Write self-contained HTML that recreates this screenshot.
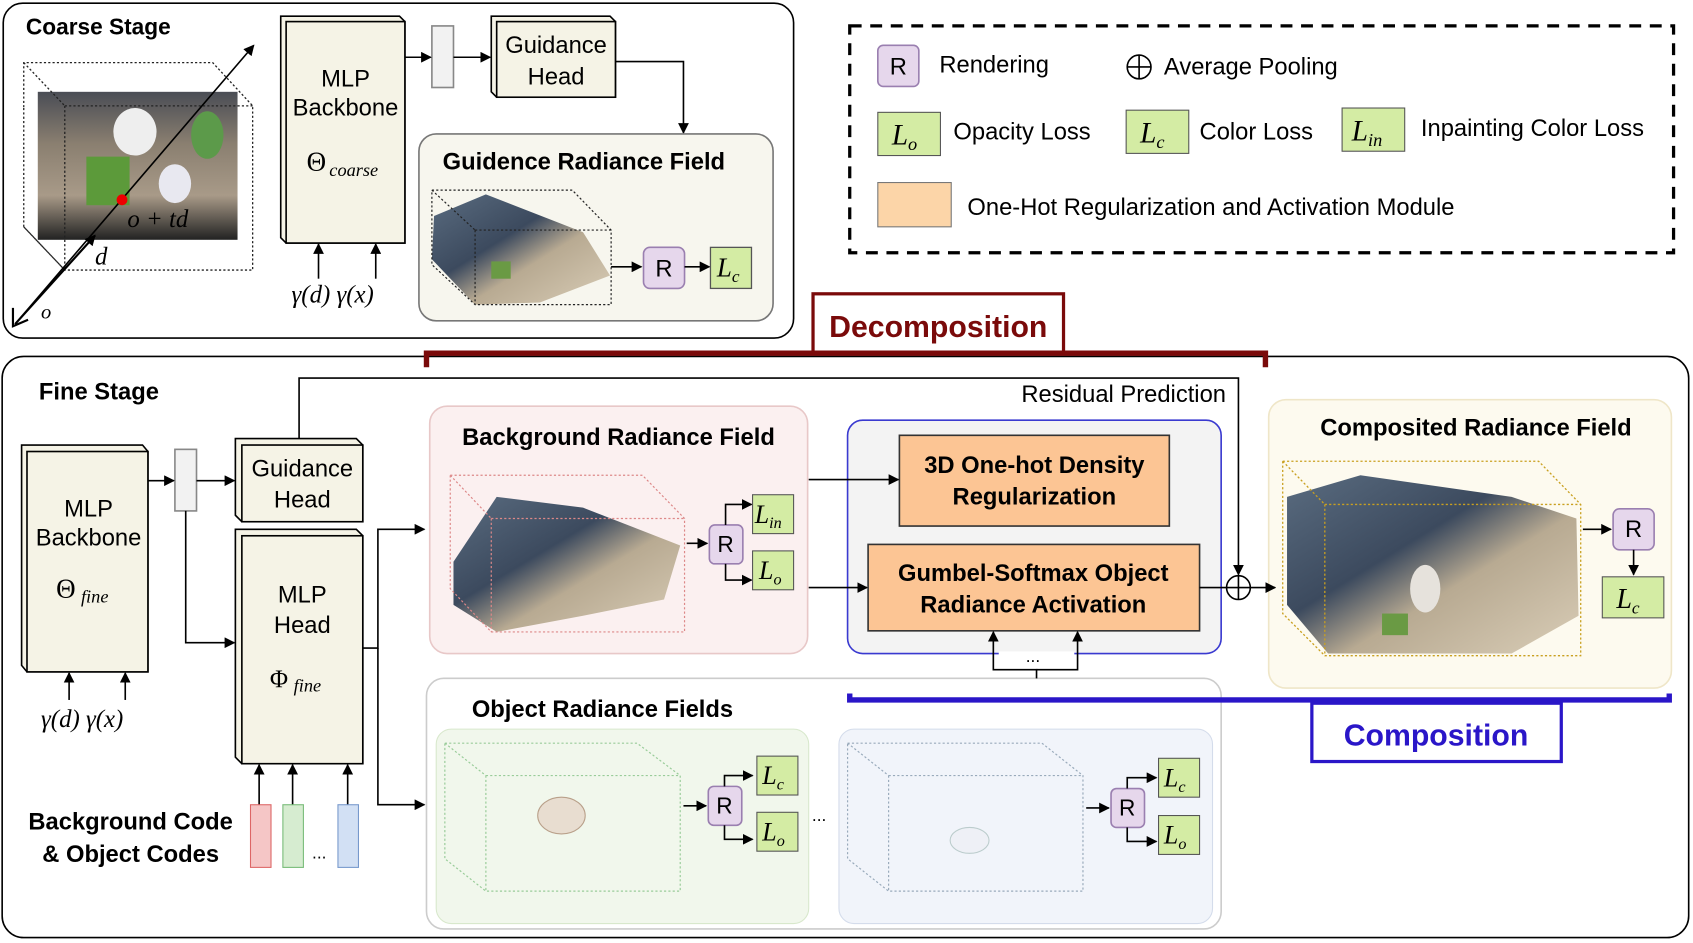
<!DOCTYPE html>
<html><head><meta charset="utf-8"><style>
html,body{margin:0;padding:0;background:#fff}
svg{display:block}
text{font-family:"Liberation Sans",sans-serif}
.m{font-family:"Liberation Serif",serif;font-style:italic}
</style></head><body>
<svg width="1693" height="943" viewBox="0 0 1568 873" preserveAspectRatio="none" xmlns="http://www.w3.org/2000/svg">
<defs>
<marker id="a" markerWidth="10" markerHeight="10" refX="9" refY="5" orient="auto" markerUnits="userSpaceOnUse"><path d="M0,0 L10,5 L0,10 z" fill="#000"/></marker>
<linearGradient id="sc" x1="0" y1="0" x2="1" y2="1"><stop offset="0" stop-color="#5a6c80"/><stop offset="0.4" stop-color="#3c4a5e"/><stop offset="0.6" stop-color="#b8aa92"/><stop offset="1" stop-color="#d9cdb7"/></linearGradient>
<linearGradient id="ph" x1="0" y1="0" x2="0" y2="1"><stop offset="0" stop-color="#4a4d55"/><stop offset="0.35" stop-color="#8a7f70"/><stop offset="0.7" stop-color="#a89a88"/><stop offset="1" stop-color="#222"/></linearGradient>
</defs>
<g fill="none" stroke="#000" stroke-width="1.5">
<rect x="3" y="3" width="732" height="310" rx="18"/>
<rect x="2" y="330" width="1562" height="538" rx="20"/>
</g>
<text x="24" y="32" font-size="21" font-weight="bold">Coarse Stage</text>
<rect x="35" y="85" width="185" height="137" fill="url(#ph)"/>
<rect x="80" y="145" width="40" height="45" fill="#5c9a3a"/>
<ellipse cx="125" cy="122" rx="20" ry="22" fill="#eee"/>
<ellipse cx="162" cy="170" rx="15" ry="18" fill="#e8e8f0"/>
<ellipse cx="192" cy="125" rx="15" ry="22" fill="#5c9a4a"/>
<g fill="none" stroke="#222" stroke-dasharray="2,2" stroke-width="1.2">
<polyline points="22,100 22,210 60,250 234,250 234,98 197,58 22,58 22,100"/>
<line x1="22" y1="58" x2="60" y2="98"/><line x1="60" y1="98" x2="234" y2="98"/><line x1="60" y1="98" x2="60" y2="250"/><line x1="22" y1="210" x2="60" y2="250"/>
</g>
<line x1="14" y1="300" x2="235" y2="42" stroke="#000" stroke-width="1.5" marker-end="url(#a)"/>
<line x1="14" y1="300" x2="88" y2="218" stroke="#000" stroke-width="2" marker-end="url(#a)"/>
<circle cx="113" cy="185" r="5" fill="#e00"/>
<text x="118" y="210" font-size="23" class="m" fill="#000">o + td</text>
<text x="88" y="245" font-size="23" class="m">d</text>
<text x="38" y="295" font-size="19" class="m">o</text>
<path d="M12,285 L12,302 L26,296" fill="none" stroke="#000" stroke-width="2"/>
<g stroke="#000" stroke-width="1.5" fill="#f5f3e6">
<path d="M260,15 L370,15 L375,20 L375,225 L265,225 L260,220 Z"/>
<rect x="265" y="20" width="110" height="205"/>
<rect x="400" y="24" width="20" height="57" fill="#f2f2f2" stroke="#888"/>
<path d="M455,15 L565,15 L570,20 L570,90 L460,90 L455,85 Z"/>
<rect x="460" y="20" width="110" height="70"/>
</g>
<text x="320" y="80" font-size="22" text-anchor="middle">MLP</text>
<text x="320" y="107" font-size="22" text-anchor="middle">Backbone</text>
<text x="284" y="158" font-size="25" class="m" style="font-style:normal">Θ</text><text x="305" y="163" font-size="17" class="m">coarse</text>
<text x="515" y="49" font-size="22" text-anchor="middle">Guidance</text>
<text x="515" y="78" font-size="22" text-anchor="middle">Head</text>
<g stroke="#000" stroke-width="1.5" fill="none" marker-end="url(#a)">
<line x1="375" y1="53" x2="399" y2="53"/><line x1="420" y1="53" x2="454" y2="53"/>
<polyline points="570,57 633,57 633,123"/>
<line x1="295" y1="258" x2="295" y2="226"/><line x1="348" y1="258" x2="348" y2="226"/>
</g>
<text x="270" y="280" font-size="23" class="m">γ(d) γ(x)</text>
<rect x="388" y="124" width="328" height="173" rx="16" fill="#f7f6ee" stroke="#777" stroke-width="1.5"/>
<text x="410" y="157" font-size="22" font-weight="bold">Guidence Radiance Field</text>
<polygon points="402,200 450,180 540,215 565,255 500,280 440,282 400,240" fill="url(#sc)"/>
<rect x="455" y="242" width="18" height="16" fill="#6a9a44"/>
<g fill="none" stroke="#222" stroke-dasharray="2,2" stroke-width="1.1">
<polyline points="400,176 530,176 566,213 566,282 440,282 400,245 400,176"/><line x1="400" y1="176" x2="440" y2="213"/><line x1="440" y1="213" x2="566" y2="213"/><line x1="440" y1="213" x2="440" y2="282"/>
</g>
<line x1="566" y1="247" x2="594" y2="247" stroke="#000" stroke-width="1.5" marker-end="url(#a)"/>
<rect x="596" y="229" width="38" height="38" rx="6" fill="#e6d7ec" stroke="#9a7fb0" stroke-width="1.5"/>
<text x="615" y="256" font-size="22" text-anchor="middle">R</text>
<line x1="634" y1="247" x2="657" y2="247" stroke="#000" stroke-width="1.5" marker-end="url(#a)"/>
<rect x="658" y="229" width="38" height="38" fill="#d4eca4" stroke="#555" stroke-width="1.2"/>
<text x="664" y="256" font-size="25" class="m">L<tspan font-size="16" dy="5">c</tspan></text>
<rect x="787" y="24" width="763" height="210" fill="none" stroke="#000" stroke-width="3" stroke-dasharray="11,8"/>
<rect x="813" y="42" width="38" height="38" rx="5" fill="#e6d7ec" stroke="#9a7fb0" stroke-width="1.5"/>
<text x="832" y="69" font-size="22" text-anchor="middle">R</text>
<text x="870" y="67" font-size="22">Rendering</text>
<circle cx="1055" cy="62" r="11" fill="none" stroke="#000" stroke-width="1.5"/><line x1="1044" y1="62" x2="1066" y2="62" stroke="#000" stroke-width="1.5"/><line x1="1055" y1="51" x2="1055" y2="73" stroke="#000" stroke-width="1.5"/>
<text x="1078" y="69" font-size="22">Average Pooling</text>
<rect x="813" y="104" width="58" height="40" fill="#d4eca4" stroke="#555"/>
<text x="826" y="134" font-size="27" class="m">L<tspan font-size="17" dy="5">o</tspan></text>
<text x="883" y="129" font-size="22">Opacity Loss</text>
<rect x="1043" y="102" width="58" height="40" fill="#d4eca4" stroke="#555"/>
<text x="1056" y="132" font-size="27" class="m">L<tspan font-size="17" dy="5">c</tspan></text>
<text x="1111" y="129" font-size="22">Color Loss</text>
<rect x="1243" y="100" width="58" height="40" fill="#d4eca4" stroke="#555"/>
<text x="1252" y="130" font-size="27" class="m">L<tspan font-size="17" dy="5">in</tspan></text>
<text x="1316" y="126" font-size="22">Inpainting Color Loss</text>
<rect x="813" y="169" width="68" height="41" fill="#fcd5a8" stroke="#777"/>
<text x="896" y="199" font-size="22">One-Hot Regularization and Activation Module</text>
<rect x="753" y="272" width="232" height="54" fill="#fff" stroke="#7a0a0a" stroke-width="3"/>
<text x="869" y="312" font-size="28" font-weight="bold" fill="#7a0a0a" text-anchor="middle">Decomposition</text>
<polyline points="395,340 395,327 1172,327 1172,340" fill="none" stroke="#7a0a0a" stroke-width="5"/>
<text x="36" y="370" font-size="22" font-weight="bold">Fine Stage</text>
<g stroke="#000" stroke-width="1.5" fill="#f5f3e6">
<path d="M20,412 L132,412 L137,418 L137,622 L25,622 L20,616 Z"/><rect x="25" y="418" width="112" height="204"/>
<rect x="162" y="416" width="20" height="57" fill="#f2f2f2" stroke="#888"/>
<path d="M218,406 L330,406 L336,412 L336,483 L224,483 L218,477 Z"/><rect x="224" y="412" width="112" height="71"/>
<path d="M218,490 L330,490 L336,496 L336,707 L224,707 L218,701 Z"/><rect x="224" y="496" width="112" height="211"/>
</g>
<text x="82" y="478" font-size="22" text-anchor="middle">MLP</text>
<text x="82" y="505" font-size="22" text-anchor="middle">Backbone</text>
<text x="52" y="553" font-size="25" class="m" style="font-style:normal">Θ</text><text x="75" y="558" font-size="17" class="m">fine</text>
<text x="280" y="441" font-size="22" text-anchor="middle">Guidance</text>
<text x="280" y="470" font-size="22" text-anchor="middle">Head</text>
<text x="280" y="558" font-size="22" text-anchor="middle">MLP</text>
<text x="280" y="586" font-size="22" text-anchor="middle">Head</text>
<text x="250" y="636" font-size="23" class="m" style="font-style:normal">Φ</text><text x="272" y="640" font-size="17" class="m">fine</text>
<text x="38" y="673" font-size="23" class="m">γ(d) γ(x)</text>
<g stroke="#000" stroke-width="1.5" fill="none" marker-end="url(#a)">
<line x1="137" y1="445" x2="161" y2="445"/><line x1="182" y1="445" x2="217" y2="445"/>
<polyline points="172,473 172,595 217,595"/>
<line x1="64" y1="648" x2="64" y2="623"/><line x1="116" y1="648" x2="116" y2="623"/>
<line x1="240" y1="745" x2="240" y2="708"/><line x1="271" y1="745" x2="271" y2="708"/><line x1="322" y1="745" x2="322" y2="708"/>
<polyline points="336,600 350,600 350,490 393,490"/><polyline points="350,600 350,745 393,745"/>
</g>
<rect x="232" y="745" width="19" height="58" fill="#f5c6c6" stroke="#d66"/>
<rect x="262" y="745" width="19" height="58" fill="#d6ecd0" stroke="#7b7"/>
<rect x="313" y="745" width="19" height="58" fill="#d2e0f4" stroke="#79c"/>
<text x="289" y="795" font-size="16">...</text>
<text x="121" y="768" font-size="22" font-weight="bold" text-anchor="middle">Background Code</text>
<text x="121" y="798" font-size="22" font-weight="bold" text-anchor="middle">&amp; Object Codes</text>
<text x="946" y="372" font-size="22">Residual Prediction</text>
<rect x="398" y="376" width="350" height="229" rx="16" fill="#fbf0f0" stroke="#e8c8c8" stroke-width="1.5"/>
<text x="428" y="412" font-size="22" font-weight="bold">Background Radiance Field</text>
<polygon points="420,520 460,460 540,470 630,505 615,555 540,570 460,585 420,560" fill="url(#sc)"/>
<g fill="none" stroke="#d88" stroke-dasharray="2,2" stroke-width="1.1">
<polyline points="417,440 595,440 634,480 634,585 455,585 417,545 417,440"/><line x1="417" y1="440" x2="455" y2="480"/><line x1="455" y1="480" x2="634" y2="480"/><line x1="455" y1="480" x2="455" y2="585"/>
</g>
<line x1="636" y1="503" x2="655" y2="503" stroke="#000" stroke-width="1.5" marker-end="url(#a)"/>
<rect x="657" y="486" width="31" height="36" rx="5" fill="#e6d7ec" stroke="#9a7fb0" stroke-width="1.5"/>
<text x="672" y="511" font-size="21" text-anchor="middle">R</text>
<polyline points="672,486 672,467 696,467" fill="none" stroke="#000" stroke-width="1.5" marker-end="url(#a)"/>
<polyline points="672,522 672,537 696,537" fill="none" stroke="#000" stroke-width="1.5" marker-end="url(#a)"/>
<rect x="697" y="458" width="38" height="36" fill="#d4eca4" stroke="#555"/>
<text x="699" y="484" font-size="24" class="m">L<tspan font-size="15" dy="5">in</tspan></text>
<rect x="697" y="510" width="38" height="36" fill="#d4eca4" stroke="#555"/>
<text x="703" y="536" font-size="24" class="m">L<tspan font-size="15" dy="5">o</tspan></text>
<rect x="785" y="389" width="346" height="216" rx="14" fill="#f3f3f3" stroke="#3a3ad0" stroke-width="1.5"/>
<rect x="833" y="403" width="250" height="84" fill="#fcc594" stroke="#333" stroke-width="1.5"/>
<text x="958" y="438" font-size="22" font-weight="bold" text-anchor="middle">3D One-hot Density</text>
<text x="958" y="467" font-size="22" font-weight="bold" text-anchor="middle">Regularization</text>
<rect x="804" y="504" width="307" height="80" fill="#fcc594" stroke="#333" stroke-width="1.5"/>
<text x="957" y="538" font-size="22" font-weight="bold" text-anchor="middle">Gumbel-Softmax Object</text>
<text x="957" y="567" font-size="22" font-weight="bold" text-anchor="middle">Radiance Activation</text>
<rect x="1175" y="370" width="373" height="267" rx="16" fill="#fdfaef" stroke="#efe6c8" stroke-width="1.5"/>
<text x="1367" y="403" font-size="22" font-weight="bold" text-anchor="middle">Composited Radiance Field</text>
<polygon points="1192,460 1260,440 1400,460 1460,480 1462,570 1400,605 1230,605 1192,560" fill="url(#sc)"/>
<rect x="1280" y="568" width="24" height="20" fill="#6a9a44"/>
<ellipse cx="1320" cy="545" rx="14" ry="22" fill="#e6e2dc"/>
<g fill="none" stroke="#c9a020" stroke-dasharray="2,2" stroke-width="1.2">
<polyline points="1188,427 1425,427 1464,467 1464,607 1227,607 1188,568 1188,427"/><line x1="1188" y1="427" x2="1227" y2="467"/><line x1="1227" y1="467" x2="1464" y2="467"/><line x1="1227" y1="467" x2="1227" y2="607"/>
</g>
<line x1="1466" y1="490" x2="1492" y2="490" stroke="#000" stroke-width="1.5" marker-end="url(#a)"/>
<rect x="1494" y="471" width="38" height="38" rx="6" fill="#e6d7ec" stroke="#9a7fb0" stroke-width="1.5"/>
<text x="1513" y="497" font-size="22" text-anchor="middle">R</text>
<line x1="1513" y1="509" x2="1513" y2="532" stroke="#000" stroke-width="1.5" marker-end="url(#a)"/>
<rect x="1484" y="534" width="57" height="38" fill="#d4eca4" stroke="#555"/>
<text x="1497" y="563" font-size="26" class="m">L<tspan font-size="16" dy="5">c</tspan></text>
<rect x="395" y="628" width="736" height="232" rx="16" fill="#fff" stroke="#ccc" stroke-width="1.5"/>
<text x="437" y="664" font-size="22" font-weight="bold">Object Radiance Fields</text>
<rect x="404" y="675" width="345" height="180" rx="14" fill="#f1f7ec" stroke="#d8e8cc"/>
<rect x="777" y="675" width="346" height="180" rx="14" fill="#f1f4fa" stroke="#d4dceb"/>
<g fill="none" stroke="#9c9" stroke-dasharray="2,2" stroke-width="1.1">
<polyline points="412,688 590,688 630,718 630,825 450,825 412,795 412,688"/><line x1="412" y1="688" x2="450" y2="718"/><line x1="450" y1="718" x2="630" y2="718"/><line x1="450" y1="718" x2="450" y2="825"/>
</g>
<g fill="none" stroke="#9ab" stroke-dasharray="2,2" stroke-width="1.1">
<polyline points="785,688 965,688 1003,718 1003,825 823,825 785,795 785,688"/><line x1="785" y1="688" x2="823" y2="718"/><line x1="823" y1="718" x2="1003" y2="718"/><line x1="823" y1="718" x2="823" y2="825"/>
</g>
<ellipse cx="520" cy="755" rx="22" ry="17" fill="#e8ddd0" stroke="#b9a08a"/>
<ellipse cx="898" cy="778" rx="18" ry="12" fill="#eef0f6" stroke="#bcc"/>
<text x="752" y="760" font-size="16">...</text>
<line x1="633" y1="746" x2="654" y2="746" stroke="#000" stroke-width="1.5" marker-end="url(#a)"/>
<rect x="656" y="728" width="31" height="36" rx="5" fill="#e6d7ec" stroke="#9a7fb0" stroke-width="1.5"/>
<text x="671" y="753" font-size="21" text-anchor="middle">R</text>
<polyline points="671,728 671,718 697,718" fill="none" stroke="#000" stroke-width="1.5" marker-end="url(#a)"/>
<polyline points="671,764 671,777 697,777" fill="none" stroke="#000" stroke-width="1.5" marker-end="url(#a)"/>
<rect x="701" y="700" width="38" height="36" fill="#d4eca4" stroke="#555"/>
<text x="706" y="726" font-size="24" class="m">L<tspan font-size="15" dy="5">c</tspan></text>
<rect x="701" y="752" width="38" height="36" fill="#d4eca4" stroke="#555"/>
<text x="706" y="778" font-size="24" class="m">L<tspan font-size="15" dy="5">o</tspan></text>
<line x1="1006" y1="748" x2="1027" y2="748" stroke="#000" stroke-width="1.5" marker-end="url(#a)"/>
<rect x="1029" y="730" width="31" height="36" rx="5" fill="#e6d7ec" stroke="#9a7fb0" stroke-width="1.5"/>
<text x="1044" y="755" font-size="21" text-anchor="middle">R</text>
<polyline points="1044,730 1044,720 1071,720" fill="none" stroke="#000" stroke-width="1.5" marker-end="url(#a)"/>
<polyline points="1044,766 1044,779 1071,779" fill="none" stroke="#000" stroke-width="1.5" marker-end="url(#a)"/>
<rect x="1073" y="702" width="38" height="36" fill="#d4eca4" stroke="#555"/>
<text x="1078" y="728" font-size="24" class="m">L<tspan font-size="15" dy="5">c</tspan></text>
<rect x="1073" y="755" width="38" height="36" fill="#d4eca4" stroke="#555"/>
<text x="1078" y="781" font-size="24" class="m">L<tspan font-size="15" dy="5">o</tspan></text>
<!-- connectors drawn on top -->
<g stroke="#000" stroke-width="1.5" fill="none" marker-end="url(#a)">
<polyline points="277,406 277,350 1147,350 1147,532"/>
<line x1="749" y1="444" x2="832" y2="444"/><line x1="749" y1="544" x2="803" y2="544"/>
<line x1="1158" y1="544" x2="1181" y2="544"/>
<polyline points="960,628 960,620 920,620 920,585"/><polyline points="960,620 998,620 998,585"/>
</g>
<line x1="1111" y1="544" x2="1136" y2="544" stroke="#000" stroke-width="1.5"/>
<circle cx="1147" cy="544" r="11" fill="#fff" stroke="#000" stroke-width="1.5"/><line x1="1136" y1="544" x2="1158" y2="544" stroke="#000" stroke-width="1.5"/><line x1="1147" y1="533" x2="1147" y2="555" stroke="#000" stroke-width="1.5"/>
<rect x="925" y="603" width="70" height="14" fill="#fff"/>
<text x="950" y="613" font-size="16">...</text>
<polyline points="787,642 787,648 1546,648 1546,642" fill="none" stroke="#2a16c8" stroke-width="5"/>
<rect x="1215" y="651" width="231" height="54" fill="#fff" stroke="#2a16c8" stroke-width="3"/>
<text x="1330" y="690" font-size="28" font-weight="bold" fill="#2a16c8" text-anchor="middle">Composition</text>
</svg>
</body></html>
